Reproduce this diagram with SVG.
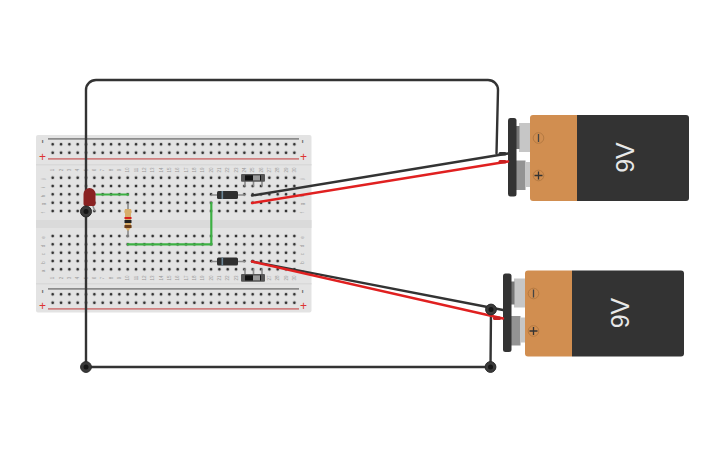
<svg xmlns="http://www.w3.org/2000/svg" width="725" height="453" viewBox="0 0 725 453">
<style>
.halo{stroke:#c4c4c4;stroke-width:4.200;stroke-linecap:round;stroke-dasharray:0 8.333;fill:none}
.holes{stroke:#333;stroke-width:2.500;stroke-linecap:round;stroke-dasharray:0 8.333;fill:none}
.lbl{font-family:"Liberation Sans",Arial,sans-serif;font-size:4.500px;fill:#9a9a9a;text-anchor:middle}
.rail{font-family:"Liberation Sans",Arial,sans-serif;text-anchor:middle}
.wk{fill:none;stroke:#333;stroke-width:2.400;stroke-linecap:round;stroke-linejoin:round}
.wr{fill:none;stroke:#e02020;stroke-width:2.400;stroke-linecap:round}
.gn{fill:none;stroke:#3cb043;stroke-width:2.200}
.lead{stroke:#8a8a8a;stroke-width:1.600;fill:none}
.junction{fill:#3a3a3a;stroke:#2a2a2a;stroke-width:1}
.jc{fill:#161616}
</style>
<defs>
<g id="batt">
<rect x="519" y="123" width="11" height="29" fill="#c6c6c6"/>
<rect x="516" y="126" width="3.500" height="23" fill="#777"/>
<rect x="516" y="160.500" width="9.500" height="29.500" fill="#939393"/>
<rect x="525.500" y="162" width="4.500" height="25" fill="#c6c6c6"/>
<rect x="508" y="118" width="8.500" height="78.500" rx="2.500" fill="#333"/>
<path d="M577 115H533a3 3 0 0 0-3 3V198a3 3 0 0 0 3 3H577Z" fill="#d18e50"/>
<path d="M577 115H686a3 3 0 0 1 3 3V198a3 3 0 0 1-3 3H577Z" fill="#333"/>
<circle cx="538.500" cy="138" r="5.300" fill="none" stroke="#b57a42"/>
<circle cx="538.500" cy="175.500" r="5.300" fill="none" stroke="#b57a42"/>
<path d="M538.500 134V142" stroke="#444" stroke-width="1.300" fill="none"/>
<path d="M534.500 175.500H542.500M538.500 171.500V179.500" stroke="#333" stroke-width="1.300" fill="none"/>
<text transform="translate(633.500,157.500) rotate(-90)" font-family="Liberation Sans,sans-serif" font-size="25" fill="#e8e8e8" text-anchor="middle">9V</text>
</g>
<g id="diode">
<path class="lead" d="M211 0H245"/>
<rect x="217" y="-4" width="21" height="8" rx="1.500" fill="#2f2f2f"/>
<rect x="221.500" y="-4" width="1.600" height="8" fill="#6d8798"/>
</g>
<g id="sw">
<rect x="241" y="0" width="24" height="7.700" rx="1" fill="#555"/>
<rect x="245" y="1.300" width="16" height="5.200" fill="#111"/>
<rect x="253" y="1.300" width="7" height="5.200" fill="#999"/>
</g>
</defs>
<rect width="725" height="453" fill="#fff"/>
<g id="breadboard">
<rect x="36" y="135" width="275.500" height="177.500" rx="2" fill="#e3e3e3"/>
<rect x="36" y="164" width="275.500" height="1.500" fill="#d9d9d9"/>
<rect x="36" y="220" width="275.500" height="8" fill="#dadada"/>
<rect x="36" y="283" width="275.500" height="1.500" fill="#d9d9d9"/>
<path d="M48 138.800H299" stroke="#8c8c8c" stroke-width="1.800"/>
<path d="M48 158.800H299" stroke="#cf8080" stroke-width="1.800"/>
<path d="M48 288.800H299" stroke="#8c8c8c" stroke-width="1.800"/>
<path d="M48 308.800H299" stroke="#cf8080" stroke-width="1.800"/>
<path class="halo" d="M52.700 144.300H295M52.700 152.700H295M52.700 177.700H295M52.700 186H295M52.700 194.300H295M52.700 202.700H295M52.700 211H295M52.700 236H295M52.700 244.300H295M52.700 252.700H295M52.700 261H295M52.700 269.300H295M52.700 294.300H295M52.700 302.700H295"/>
<path class="holes" d="M52.700 144.300H295M52.700 152.700H295M52.700 177.700H295M52.700 186H295M52.700 194.300H295M52.700 202.700H295M52.700 211H295M52.700 236H295M52.700 244.300H295M52.700 252.700H295M52.700 261H295M52.700 269.300H295M52.700 294.300H295M52.700 302.700H295"/>
<g class="rail" font-size="12">
<text transform="translate(46,141.500) rotate(-90)" fill="#666">-</text>
<text x="42.500" y="160.500" fill="#d33">+</text>
<text transform="translate(306,141.500) rotate(-90)" fill="#666">-</text>
<text x="303.500" y="160.500" fill="#d33">+</text>
<text transform="translate(46,291.500) rotate(-90)" fill="#666">-</text>
<text x="42.500" y="310" fill="#d33">+</text>
<text transform="translate(306,291.500) rotate(-90)" fill="#666">-</text>
<text x="303.500" y="310" fill="#d33">+</text>
</g>
<g class="lbl">
<text transform="translate(45,179) rotate(-90)">j</text><text transform="translate(45,187.500) rotate(-90)">i</text><text transform="translate(45,196) rotate(-90)">h</text><text transform="translate(45,204) rotate(-90)">g</text><text transform="translate(45,212.500) rotate(-90)">f</text>
<text transform="translate(45,237.500) rotate(-90)">e</text><text transform="translate(45,246) rotate(-90)">d</text><text transform="translate(45,254) rotate(-90)">c</text><text transform="translate(45,262.500) rotate(-90)">b</text><text transform="translate(45,271) rotate(-90)">a</text>
<text transform="translate(304,179) rotate(-90)">j</text><text transform="translate(304,187.500) rotate(-90)">i</text><text transform="translate(304,196) rotate(-90)">h</text><text transform="translate(304,204) rotate(-90)">g</text><text transform="translate(304,212.500) rotate(-90)">f</text>
<text transform="translate(304,237.500) rotate(-90)">e</text><text transform="translate(304,246) rotate(-90)">d</text><text transform="translate(304,254) rotate(-90)">c</text><text transform="translate(304,262.500) rotate(-90)">b</text><text transform="translate(304,271) rotate(-90)">a</text>
</g>
<g class="lbl">
<text transform="translate(54.400,170) rotate(-90)">1</text><text transform="translate(62.700,170) rotate(-90)">2</text><text transform="translate(71,170) rotate(-90)">3</text><text transform="translate(79.400,170) rotate(-90)">4</text><text transform="translate(87.700,170) rotate(-90)">5</text><text transform="translate(96,170) rotate(-90)">6</text><text transform="translate(104.400,170) rotate(-90)">7</text><text transform="translate(112.700,170) rotate(-90)">8</text><text transform="translate(121,170) rotate(-90)">9</text><text transform="translate(129.400,170) rotate(-90)">10</text><text transform="translate(137.700,170) rotate(-90)">11</text><text transform="translate(146,170) rotate(-90)">12</text><text transform="translate(154.400,170) rotate(-90)">13</text><text transform="translate(162.700,170) rotate(-90)">14</text><text transform="translate(171,170) rotate(-90)">15</text><text transform="translate(179.400,170) rotate(-90)">16</text><text transform="translate(187.700,170) rotate(-90)">17</text><text transform="translate(196,170) rotate(-90)">18</text><text transform="translate(204.400,170) rotate(-90)">19</text><text transform="translate(212.700,170) rotate(-90)">20</text><text transform="translate(221,170) rotate(-90)">21</text><text transform="translate(229.400,170) rotate(-90)">22</text><text transform="translate(237.700,170) rotate(-90)">23</text><text transform="translate(246,170) rotate(-90)">24</text><text transform="translate(254.400,170) rotate(-90)">25</text><text transform="translate(262.700,170) rotate(-90)">26</text><text transform="translate(271,170) rotate(-90)">27</text><text transform="translate(279.400,170) rotate(-90)">28</text><text transform="translate(287.700,170) rotate(-90)">29</text><text transform="translate(296,170) rotate(-90)">30</text>
<text transform="translate(54.400,278) rotate(-90)">1</text><text transform="translate(62.700,278) rotate(-90)">2</text><text transform="translate(71,278) rotate(-90)">3</text><text transform="translate(79.400,278) rotate(-90)">4</text><text transform="translate(87.700,278) rotate(-90)">5</text><text transform="translate(96,278) rotate(-90)">6</text><text transform="translate(104.400,278) rotate(-90)">7</text><text transform="translate(112.700,278) rotate(-90)">8</text><text transform="translate(121,278) rotate(-90)">9</text><text transform="translate(129.400,278) rotate(-90)">10</text><text transform="translate(137.700,278) rotate(-90)">11</text><text transform="translate(146,278) rotate(-90)">12</text><text transform="translate(154.400,278) rotate(-90)">13</text><text transform="translate(162.700,278) rotate(-90)">14</text><text transform="translate(171,278) rotate(-90)">15</text><text transform="translate(179.400,278) rotate(-90)">16</text><text transform="translate(187.700,278) rotate(-90)">17</text><text transform="translate(196,278) rotate(-90)">18</text><text transform="translate(204.400,278) rotate(-90)">19</text><text transform="translate(212.700,278) rotate(-90)">20</text><text transform="translate(221,278) rotate(-90)">21</text><text transform="translate(229.400,278) rotate(-90)">22</text><text transform="translate(237.700,278) rotate(-90)">23</text><text transform="translate(246,278) rotate(-90)">24</text><text transform="translate(254.400,278) rotate(-90)">25</text><text transform="translate(262.700,278) rotate(-90)">26</text><text transform="translate(271,278) rotate(-90)">27</text><text transform="translate(279.400,278) rotate(-90)">28</text><text transform="translate(287.700,278) rotate(-90)">29</text><text transform="translate(296,278) rotate(-90)">30</text>
</g>
</g>
<g id="battery-1"><use href="#batt"/></g>
<g id="battery-2"><use href="#batt" transform="translate(-5,155.500)"/></g>
<g id="resistor">
<path class="lead" d="M128 203V237"/>
<path d="M125 209h6l.8 3-.8 1.500V225.500l.8 1.500-3.800 4-3.800-4 .8-1.500V213.500l-.8-1.500Z" fill="#d8ad6a"/>
<rect x="124.500" y="217" width="7" height="2" fill="#d42020"/>
<rect x="124.500" y="220" width="7" height="3" fill="#222"/>
<rect x="124.500" y="225" width="7" height="3" fill="#6b3d1a"/>
</g>
<g id="diode-1"><use href="#diode" y="195"/></g>
<g id="diode-2"><use href="#diode" y="261.500"/></g>
<g id="switch-1">
<path class="lead" d="M245 181V186.500M253.500 181V186.500M262 181V186.500"/>
<use href="#sw" y="174"/>
</g>
<g id="switch-2">
<path class="lead" d="M245 268.500V275M253.500 268.500V275M262 268.500V275"/>
<use href="#sw" y="274"/>
</g>
<g id="connectors">
<path class="gn" d="M96 194.500H129"/>
<path class="gn" d="M127 244.300H212.500"/>
<path class="gn" d="M211.300 202V244.300"/>
<path class="wk" d="M86 367V90a10 10 0 0 1 10-10H488a10 10 0 0 1 10 10L496.500 153.500"/>
<path class="wk" d="M86 367H490.500L491 310"/>
<path class="wk" d="M252 195.500L508 153.500"/>
<path class="wr" d="M252 203L508 161.500"/>
<path class="wk" d="M252 261.500L503 310"/>
<path class="wr" d="M252 261.500L503 318.500"/>
<rect x="498.500" y="152" width="8" height="3.400" rx="1.500" fill="#333"/>
<rect x="498.500" y="160" width="8" height="3.400" rx="1.500" fill="#c92020"/>
<rect x="493" y="316.500" width="8" height="3.400" rx="1.500" fill="#c92020"/>
<circle class="junction" cx="86" cy="367" r="5.400"/><circle class="jc" cx="86" cy="367" r="2.500"/>
<circle class="junction" cx="490.500" cy="367" r="5.400"/><circle class="jc" cx="490.500" cy="367" r="2.500"/>
<circle class="junction" cx="491" cy="309.500" r="5.400"/><circle class="jc" cx="491" cy="309.500" r="2.500"/>
</g>
<g id="led">
<path d="M92 204L95 211" stroke="#8a8a8a" stroke-width="1.400"/>
<path d="M83.500 204V194a6 6 0 0 1 12 0V204a2 2 0 0 1-2 2H85.500a2 2 0 0 1-2-2Z" fill="#8a2222"/>
<circle class="junction" cx="86" cy="211.500" r="5.500"/><circle class="jc" cx="86" cy="211.500" r="2.500"/>
</g>
</svg>
